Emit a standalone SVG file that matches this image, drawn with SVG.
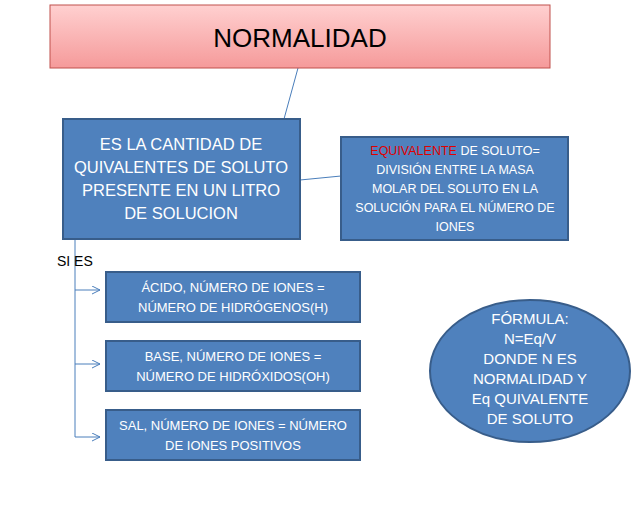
<svg xmlns="http://www.w3.org/2000/svg" width="640" height="527" viewBox="0 0 640 527">
<style>
.b{fill:#4f81bd;stroke:#385d8a;stroke-width:2}
.t{font-family:"Liberation Sans",Arial,sans-serif;fill:#fff;text-anchor:middle}
.c{stroke:#4a7ebb;stroke-width:1;fill:none}
</style>
<defs>
<linearGradient id="p" x1="0" y1="0" x2="0" y2="1"><stop offset="0" stop-color="#ffd0d0"/><stop offset="1" stop-color="#f59a9a"/></linearGradient>
<marker id="a" markerWidth="10" markerHeight="10" refX="8" refY="4" orient="auto"><path d="M0,0 L8,4 L0,8" fill="none" stroke="#4a7ebb"/></marker>
</defs>
<rect width="640" height="527" fill="#fff"/>
<g id="connectors">
<line class="c" x1="298" y1="68" x2="284" y2="119"/>
<line class="c" x1="300" y1="180" x2="341" y2="176"/>
<line class="c" x1="75" y1="240" x2="75" y2="437"/>
<line class="c" x1="75" y1="290" x2="100" y2="290" marker-end="url(#a)"/>
<line class="c" x1="75" y1="364" x2="100" y2="364" marker-end="url(#a)"/>
<line class="c" x1="75" y1="437" x2="100" y2="437" marker-end="url(#a)"/>
</g>
<g id="title"><rect x="50" y="5" width="500" height="63" fill="url(#p)" stroke="#c0504d"/>
<text x="300" y="47" font-family="Liberation Sans,Arial,sans-serif" font-size="26" text-anchor="middle">NORMALIDAD</text></g>
<g id="main"><rect class="b" x="63" y="119" width="237" height="120"/>
<text class="t" font-size="16.5"><tspan x="181" y="150">ES LA CANTIDAD DE</tspan><tspan x="181" y="173">QUIVALENTES DE SOLUTO</tspan><tspan x="181" y="196">PRESENTE EN UN LITRO</tspan><tspan x="181" y="219">DE SOLUCION</tspan></text></g>
<g id="equiv"><rect class="b" x="341" y="137" width="227" height="103"/>
<text class="t" font-size="12.5"><tspan x="455" y="155"><tspan fill="#e00000">EQUIVALENTE</tspan> DE SOLUTO=</tspan><tspan x="455" y="174">DIVISIÓN ENTRE LA MASA</tspan><tspan x="455" y="193">MOLAR DEL SOLUTO EN LA</tspan><tspan x="455" y="212">SOLUCIÓN PARA EL NÚMERO DE</tspan><tspan x="455" y="231">IONES</tspan></text></g>
<text x="57" y="266" font-family="Liberation Sans,Arial,sans-serif" font-size="14">SI ES</text>
<g id="acido"><rect class="b" x="106" y="272" width="254" height="50"/>
<text class="t" font-size="13"><tspan x="233" y="292">ÁCIDO, NÚMERO DE IONES =</tspan><tspan x="233" y="312">NÚMERO DE HIDRÓGENOS(H)</tspan></text></g>
<g id="base"><rect class="b" x="106" y="341" width="254" height="50"/>
<text class="t" font-size="13"><tspan x="233" y="361">BASE, NÚMERO DE IONES =</tspan><tspan x="233" y="381">NÚMERO DE HIDRÓXIDOS(OH)</tspan></text></g>
<g id="sal"><rect class="b" x="106" y="410" width="254" height="50"/>
<text class="t" font-size="13"><tspan x="233" y="430">SAL, NÚMERO DE IONES = NÚMERO</tspan><tspan x="233" y="450">DE IONES POSITIVOS</tspan></text></g>
<g id="formula"><ellipse class="b" cx="530" cy="371" rx="100" ry="71"/>
<text class="t" font-size="15"><tspan x="530" y="324">FÓRMULA:</tspan><tspan x="530" y="344">N=Eq/V</tspan><tspan x="530" y="364">DONDE N ES</tspan><tspan x="530" y="384">NORMALIDAD Y</tspan><tspan x="530" y="404">Eq QUIVALENTE</tspan><tspan x="530" y="424">DE SOLUTO</tspan></text></g>
</svg>
